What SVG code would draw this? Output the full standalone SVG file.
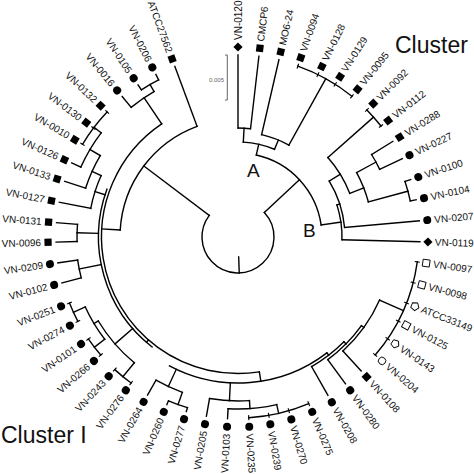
<svg xmlns="http://www.w3.org/2000/svg" xmlns:xlink="http://www.w3.org/1999/xlink" width="474" height="474" viewBox="0 0 474 474">
<style>
.e{fill:none;stroke:#000;stroke-width:1.4;stroke-linecap:square}
.t{stroke-width:1.1}
.lb{font-family:"Liberation Sans",Arial,sans-serif;font-size:10px;fill:#111}
.big{font-family:"Liberation Sans",Arial,sans-serif;fill:#111}
</style>
<defs>
<rect id="sq" x="-3.6" y="-3.6" width="7.2" height="7.2" fill="#000"/>
<rect id="sqo" x="-3.5" y="-3.5" width="7" height="7" fill="#fff" stroke="#000" stroke-width="0.9"/>
<circle id="ci" r="4" fill="#000"/>
<circle id="cio" r="3.7" fill="#fff" stroke="#000" stroke-width="0.9"/>
<polygon id="di" points="0,-4.6 4.6,0 0,4.6 -4.6,0" fill="#000"/>
<polygon id="pe" points="4.3,0 1.33,4.09 -3.48,2.53 -3.48,-2.53 1.33,-4.09" fill="#fff" stroke="#000" stroke-width="0.9"/>
</defs>
<rect width="474" height="474" fill="#fff"/>
<g id="connectors" transform="translate(238,237)">
<!-- root -->
<circle class="e" r="36" pathLength="360" stroke-dasharray="260 400" transform="rotate(-43)"/>
<line class="e" x1="20" x2="36" transform="rotate(88)"/>
<!-- right subtree -->
<line class="e" x1="36" x2="84" transform="rotate(-43)"/>
<circle class="e" r="84" pathLength="360" stroke-dasharray="69.2 400" transform="rotate(-77.4)"/>
<line class="e" x1="84" x2="95" transform="rotate(-77.4)"/>
<circle class="e" r="95" pathLength="360" stroke-dasharray="19.4 400" transform="rotate(-86.8)"/>
<line class="e" x1="95" x2="109" transform="rotate(-86.8)"/>
<circle class="e" r="109" pathLength="360" stroke-dasharray="6.6 400" transform="rotate(-90)"/>
<line class="e" x1="109" x2="182" transform="rotate(-90)"/>
<line class="e" x1="109" x2="182" transform="rotate(-83.4)"/>
<line class="e" x1="95" x2="105" transform="rotate(-67.4)"/>
<circle class="e" r="105" pathLength="360" stroke-dasharray="16 400" transform="rotate(-77)"/>
<line class="e" x1="105" x2="182" transform="rotate(-77)"/>
<line class="e" x1="105" x2="181" transform="rotate(-61)"/>
<circle class="e" r="181" pathLength="360" stroke-dasharray="19.7 400" transform="rotate(-70.7)"/>
<line class="e t" x1="179" x2="183" transform="rotate(-70.7)"/>
<line class="e t" x1="179" x2="183" transform="rotate(-63.8)"/>
<line class="e t" x1="179" x2="183" transform="rotate(-57.5)"/>
<line class="e t" x1="179" x2="183" transform="rotate(-51)"/>
<line class="e" x1="84" x2="104" transform="rotate(-8.2)"/>
<circle class="e" r="104" pathLength="360" stroke-dasharray="19.5 400" transform="rotate(-18)"/>
<line class="e" x1="104" x2="182" transform="rotate(1.5)"/>
<line class="e" x1="104" x2="107" transform="rotate(-18)"/>
<circle class="e" r="107" pathLength="360" stroke-dasharray="26.4 400" transform="rotate(-31.5)"/>
<line class="e" x1="107" x2="182" transform="rotate(-5.1)"/>
<line class="e" x1="107" x2="120" transform="rotate(-31.5)"/>
<circle class="e" r="120" pathLength="360" stroke-dasharray="20.2 400" transform="rotate(-41.5)"/>
<line class="e" x1="120" x2="181" transform="rotate(-41.5)"/>
<circle class="e" r="181" pathLength="360" stroke-dasharray="6.8 400" transform="rotate(-44.6)"/>
<line class="e t" x1="179" x2="183" transform="rotate(-44.6)"/>
<line class="e t" x1="179" x2="183" transform="rotate(-37.8)"/>
<line class="e" x1="120" x2="135" transform="rotate(-21.3)"/>
<circle class="e" r="135" pathLength="360" stroke-dasharray="13.4 400" transform="rotate(-28.5)"/>
<line class="e" x1="135" x2="157" transform="rotate(-28.5)"/>
<circle class="e" r="157" pathLength="360" stroke-dasharray="6.2 400" transform="rotate(-31.7)"/>
<line class="e" x1="157" x2="182" transform="rotate(-31.7)"/>
<line class="e" x1="157" x2="182" transform="rotate(-25.5)"/>
<line class="e" x1="135" x2="176" transform="rotate(-15.1)"/>
<circle class="e" r="176" pathLength="360" stroke-dasharray="6.6 400" transform="rotate(-18.4)"/>
<line class="e" x1="176" x2="182" transform="rotate(-18.4)"/>
<line class="e" x1="176" x2="182" transform="rotate(-11.8)"/>
<!-- left subtree -->
<line class="e" x1="36" x2="118" transform="rotate(217)"/>
<circle class="e" r="118" pathLength="360" stroke-dasharray="66.3 400" transform="rotate(183.4)"/>
<line class="e" x1="118" x2="182" transform="rotate(249.7)"/>
<line class="e" x1="118" x2="136.5" transform="rotate(183.4)"/>
<circle class="e" r="136.5" pathLength="360" stroke-dasharray="155 400" transform="rotate(81)"/>
<line class="e" x1="136.5" x2="139.5" transform="rotate(131)"/>
<circle class="e" r="139.5" pathLength="360" stroke-dasharray="72 400" transform="rotate(128)"/>
<!-- S1 -->
<line class="e" x1="136.5" x2="168" transform="rotate(236)"/>
<circle class="e" r="168" pathLength="360" stroke-dasharray="9.5 400" transform="rotate(230.5)"/>
<line class="e" x1="168" x2="182" transform="rotate(230.5)"/>
<line class="e" x1="168" x2="176" transform="rotate(240)"/>
<circle class="e" r="176" pathLength="360" stroke-dasharray="6.5 400" transform="rotate(236.7)"/>
<line class="e" x1="176" x2="182" transform="rotate(236.7)"/>
<line class="e" x1="176" x2="182" transform="rotate(243.2)"/>
<!-- S2 comb -->
<circle class="e" r="181" pathLength="360" stroke-dasharray="12.9 400" transform="rotate(210.8)"/>
<line class="e t" x1="179" x2="183" transform="rotate(223.7)"/>
<line class="e t" x1="179" x2="183" transform="rotate(217)"/>
<line class="e t" x1="179" x2="183" transform="rotate(210.8)"/>
<line class="e" x1="172" x2="181" transform="rotate(217.3)"/>
<circle class="e" r="172" pathLength="360" stroke-dasharray="13.3 400" transform="rotate(204)"/>
<line class="e" x1="172" x2="182" transform="rotate(204)"/>
<line class="e" x1="160" x2="172" transform="rotate(210.6)"/>
<circle class="e" r="160" pathLength="360" stroke-dasharray="12.8 400" transform="rotate(197.8)"/>
<line class="e" x1="160" x2="182" transform="rotate(197.8)"/>
<line class="e" x1="150" x2="160" transform="rotate(204.2)"/>
<circle class="e" r="150" pathLength="360" stroke-dasharray="13.2 400" transform="rotate(191)"/>
<line class="e" x1="150" x2="182" transform="rotate(191)"/>
<line class="e" x1="139.5" x2="150" transform="rotate(197.6)"/>
<line class="e" x1="139.5" x2="161" transform="rotate(181.5)"/>
<circle class="e" r="161" pathLength="360" stroke-dasharray="6.1 400" transform="rotate(178.4)"/>
<line class="e" x1="161" x2="182" transform="rotate(178.4)"/>
<line class="e" x1="161" x2="182" transform="rotate(184.5)"/>
<line class="e" x1="139.5" x2="162" transform="rotate(168.6)"/>
<circle class="e" r="162" pathLength="360" stroke-dasharray="6.4 400" transform="rotate(165.4)"/>
<line class="e" x1="162" x2="182" transform="rotate(165.4)"/>
<line class="e" x1="162" x2="182" transform="rotate(171.8)"/>
<!-- Q -->
<line class="e" x1="139.5" x2="163" transform="rotate(139)"/>
<circle class="e" r="163" pathLength="360" stroke-dasharray="19.5 400" transform="rotate(129.5)"/>
<line class="e" x1="163" x2="181" transform="rotate(129.5)"/>
<circle class="e" r="181" pathLength="360" stroke-dasharray="6.7 400" transform="rotate(126.2)"/>
<line class="e t" x1="179" x2="183" transform="rotate(126.2)"/>
<line class="e t" x1="179" x2="183" transform="rotate(132.9)"/>
<line class="e" x1="163" x2="168" transform="rotate(149)"/>
<circle class="e" r="168" pathLength="360" stroke-dasharray="12.9 400" transform="rotate(142.5)"/>
<line class="e" x1="168" x2="181" transform="rotate(155.4)"/>
<circle class="e" r="181" pathLength="360" stroke-dasharray="6.4 400" transform="rotate(152.2)"/>
<line class="e t" x1="179" x2="183" transform="rotate(152.2)"/>
<line class="e t" x1="179" x2="183" transform="rotate(158.6)"/>
<line class="e" x1="168" x2="181" transform="rotate(142.5)"/>
<circle class="e" r="181" pathLength="360" stroke-dasharray="6.4 400" transform="rotate(139.3)"/>
<line class="e t" x1="179" x2="183" transform="rotate(139.3)"/>
<line class="e t" x1="179" x2="183" transform="rotate(145.7)"/>
<!-- bottom -->
<line class="e" x1="136.5" x2="146" transform="rotate(81)"/>
<circle class="e" r="146" pathLength="360" stroke-dasharray="65.5 400" transform="rotate(52.5)"/>
<line class="e" x1="146" x2="165" transform="rotate(115)"/>
<circle class="e" r="165" pathLength="360" stroke-dasharray="10.1 400" transform="rotate(109.7)"/>
<line class="e" x1="165" x2="182" transform="rotate(119.8)"/>
<line class="e" x1="165" x2="178" transform="rotate(109.7)"/>
<circle class="e" r="178" pathLength="360" stroke-dasharray="6.5 400" transform="rotate(106.5)"/>
<line class="e" x1="178" x2="182" transform="rotate(106.5)"/>
<line class="e" x1="178" x2="182" transform="rotate(113)"/>
<line class="e" x1="146" x2="164" transform="rotate(93)"/>
<circle class="e" r="164" pathLength="360" stroke-dasharray="14 400" transform="rotate(86)"/>
<line class="e" x1="164" x2="182" transform="rotate(100)"/>
<line class="e" x1="164" x2="172" transform="rotate(86)"/>
<circle class="e" r="172" pathLength="360" stroke-dasharray="16.3 400" transform="rotate(77)"/>
<line class="e" x1="172" x2="182" transform="rotate(93.3)"/>
<line class="e" x1="172" x2="181" transform="rotate(77)"/>
<circle class="e" r="181" pathLength="360" stroke-dasharray="19.6 400" transform="rotate(67)"/>
<line class="e t" x1="179" x2="183" transform="rotate(67)"/>
<line class="e t" x1="179" x2="183" transform="rotate(73.7)"/>
<line class="e t" x1="179" x2="183" transform="rotate(80.2)"/>
<line class="e t" x1="179" x2="183" transform="rotate(86.6)"/>
<line class="e" x1="146" x2="149" transform="rotate(52.5)"/>
<circle class="e" r="149" pathLength="360" stroke-dasharray="15.7 400" transform="rotate(44.7)"/>
<line class="e" x1="149" x2="182" transform="rotate(60.4)"/>
<line class="e" x1="149" x2="152" transform="rotate(44.7)"/>
<circle class="e" r="152" pathLength="360" stroke-dasharray="18.1 400" transform="rotate(35.7)"/>
<line class="e" x1="152" x2="182" transform="rotate(53.8)"/>
<line class="e" x1="152" x2="155" transform="rotate(35.7)"/>
<circle class="e" r="155" pathLength="360" stroke-dasharray="23.4 400" transform="rotate(24)"/>
<line class="e" x1="155" x2="182" transform="rotate(47.4)"/>
<line class="e" x1="155" x2="181" transform="rotate(24)"/>
<circle class="e" r="181" pathLength="360" stroke-dasharray="32.8 400" transform="rotate(7.9)"/>
<line class="e t" x1="179" x2="183" transform="rotate(7.9)"/>
<line class="e t" x1="179" x2="183" transform="rotate(14.6)"/>
<line class="e t" x1="179" x2="183" transform="rotate(21.4)"/>
<line class="e t" x1="179" x2="183" transform="rotate(27.7)"/>
<line class="e t" x1="179" x2="183" transform="rotate(34.2)"/>
<line class="e t" x1="179" x2="183" transform="rotate(40.7)"/>
</g>
<g id="nodes" transform="translate(238,237)" class="lb">
<g id="n-VN-0120" transform="rotate(-90)"><use xlink:href="#di" x="190"/><text x="197" dy="3.5">VN-0120</text></g>
<g id="n-CMCP6" transform="rotate(-83.4)"><use xlink:href="#sq" x="190"/><text x="197" dy="3.5">CMCP6</text></g>
<g id="n-MO6-24" transform="rotate(-77)"><use xlink:href="#sq" x="190"/><text x="197" dy="3.5">MO6-24</text></g>
<g id="n-VN-0094" transform="rotate(-70.7)"><use xlink:href="#sq" x="190"/><text x="197" dy="3.5">VN-0094</text></g>
<g id="n-VN-0128" transform="rotate(-63.8)"><use xlink:href="#sq" x="190"/><text x="197" dy="3.5">VN-0128</text></g>
<g id="n-VN-0129" transform="rotate(-57.5)"><use xlink:href="#sq" x="190"/><text x="197" dy="3.5">VN-0129</text></g>
<g id="n-VN-0095" transform="rotate(-51)"><use xlink:href="#sq" x="190"/><text x="197" dy="3.5">VN-0095</text></g>
<g id="n-VN-0092" transform="rotate(-44.6)"><use xlink:href="#sq" x="190"/><text x="197" dy="3.5">VN-0092</text></g>
<g id="n-VN-0112" transform="rotate(-37.8)"><use xlink:href="#sq" x="190"/><text x="197" dy="3.5">VN-0112</text></g>
<g id="n-VN-0288" transform="rotate(-31.7)"><use xlink:href="#sq" x="190"/><text x="197" dy="3.5">VN-0288</text></g>
<g id="n-VN-0227" transform="rotate(-25.5)"><use xlink:href="#ci" x="190"/><text x="197" dy="3.5">VN-0227</text></g>
<g id="n-VN-0100" transform="rotate(-18.4)"><use xlink:href="#ci" x="190"/><text x="197" dy="3.5">VN-0100</text></g>
<g id="n-VN-0104" transform="rotate(-11.8)"><use xlink:href="#ci" x="190"/><text x="197" dy="3.5">VN-0104</text></g>
<g id="n-VN-0207" transform="rotate(-5.1)"><use xlink:href="#ci" x="190"/><text x="197" dy="3.5">VN-0207</text></g>
<g id="n-VN-0119" transform="rotate(1.5)"><use xlink:href="#di" x="190"/><text x="197" dy="3.5">VN-0119</text></g>
<g id="n-VN-0097" transform="rotate(7.9)"><use xlink:href="#sqo" x="190"/><text x="197" dy="3.5">VN-0097</text></g>
<g id="n-VN-0098" transform="rotate(14.6)"><use xlink:href="#sqo" x="190"/><text x="197" dy="3.5">VN-0098</text></g>
<g id="n-ATCC33149" transform="rotate(21.4)"><use xlink:href="#pe" x="190"/><text x="197" dy="3.5">ATCC33149</text></g>
<g id="n-VN-0125" transform="rotate(27.7)"><use xlink:href="#sqo" x="190"/><text x="197" dy="3.5">VN-0125</text></g>
<g id="n-VN-0143" transform="rotate(34.2)"><use xlink:href="#pe" x="190"/><text x="197" dy="3.5">VN-0143</text></g>
<g id="n-VN-0204" transform="rotate(40.7)"><use xlink:href="#cio" x="190"/><text x="197" dy="3.5">VN-0204</text></g>
<g id="n-VN-0108" transform="rotate(47.4)"><use xlink:href="#sq" x="190"/><text x="197" dy="3.5">VN-0108</text></g>
<g id="n-VN-0280" transform="rotate(53.8)"><use xlink:href="#ci" x="190"/><text x="197" dy="3.5">VN-0280</text></g>
<g id="n-VN-0208" transform="rotate(60.4)"><use xlink:href="#ci" x="190"/><text x="197" dy="3.5">VN-0208</text></g>
<g id="n-VN-0275" transform="rotate(67)"><use xlink:href="#ci" x="190"/><text x="197" dy="3.5">VN-0275</text></g>
<g id="n-VN-0270" transform="rotate(73.7)"><use xlink:href="#ci" x="190"/><text x="197" dy="3.5">VN-0270</text></g>
<g id="n-VN-0239" transform="rotate(80.2)"><use xlink:href="#ci" x="190"/><text x="197" dy="3.5">VN-0239</text></g>
<g id="n-VN-0235" transform="rotate(86.6)"><use xlink:href="#ci" x="190"/><text x="197" dy="3.5">VN-0235</text></g>
<g id="n-VN-0103" transform="rotate(93.3)"><use xlink:href="#ci" x="190"/><text transform="rotate(180)" x="-197" dy="3.5" text-anchor="end">VN-0103</text></g>
<g id="n-VN-0205" transform="rotate(100)"><use xlink:href="#ci" x="190"/><text transform="rotate(180)" x="-197" dy="3.5" text-anchor="end">VN-0205</text></g>
<g id="n-VN-0277" transform="rotate(106.5)"><use xlink:href="#ci" x="190"/><text transform="rotate(180)" x="-197" dy="3.5" text-anchor="end">VN-0277</text></g>
<g id="n-VN-0260" transform="rotate(113)"><use xlink:href="#ci" x="190"/><text transform="rotate(180)" x="-197" dy="3.5" text-anchor="end">VN-0260</text></g>
<g id="n-VN-0264" transform="rotate(119.8)"><use xlink:href="#ci" x="190"/><text transform="rotate(180)" x="-197" dy="3.5" text-anchor="end">VN-0264</text></g>
<g id="n-VN-0276" transform="rotate(126.2)"><use xlink:href="#ci" x="190"/><text transform="rotate(180)" x="-197" dy="3.5" text-anchor="end">VN-0276</text></g>
<g id="n-VN-0243" transform="rotate(132.9)"><use xlink:href="#ci" x="190"/><text transform="rotate(180)" x="-197" dy="3.5" text-anchor="end">VN-0243</text></g>
<g id="n-VN-0266" transform="rotate(139.3)"><use xlink:href="#ci" x="190"/><text transform="rotate(180)" x="-197" dy="3.5" text-anchor="end">VN-0266</text></g>
<g id="n-VN-0101" transform="rotate(145.7)"><use xlink:href="#ci" x="190"/><text transform="rotate(180)" x="-197" dy="3.5" text-anchor="end">VN-0101</text></g>
<g id="n-VN-0274" transform="rotate(152.2)"><use xlink:href="#ci" x="190"/><text transform="rotate(180)" x="-197" dy="3.5" text-anchor="end">VN-0274</text></g>
<g id="n-VN-0251" transform="rotate(158.6)"><use xlink:href="#ci" x="190"/><text transform="rotate(180)" x="-197" dy="3.5" text-anchor="end">VN-0251</text></g>
<g id="n-VN-0102" transform="rotate(165.4)"><use xlink:href="#ci" x="190"/><text transform="rotate(180)" x="-197" dy="3.5" text-anchor="end">VN-0102</text></g>
<g id="n-VN-0209" transform="rotate(171.8)"><use xlink:href="#ci" x="190"/><text transform="rotate(180)" x="-197" dy="3.5" text-anchor="end">VN-0209</text></g>
<g id="n-VN-0096" transform="rotate(178.4)"><use xlink:href="#sq" x="190"/><text transform="rotate(180)" x="-197" dy="3.5" text-anchor="end">VN-0096</text></g>
<g id="n-VN-0131" transform="rotate(184.5)"><use xlink:href="#sq" x="190"/><text transform="rotate(180)" x="-197" dy="3.5" text-anchor="end">VN-0131</text></g>
<g id="n-VN-0127" transform="rotate(191)"><use xlink:href="#sq" x="190"/><text transform="rotate(180)" x="-197" dy="3.5" text-anchor="end">VN-0127</text></g>
<g id="n-VN-0133" transform="rotate(197.8)"><use xlink:href="#sq" x="190"/><text transform="rotate(180)" x="-197" dy="3.5" text-anchor="end">VN-0133</text></g>
<g id="n-VN-0126" transform="rotate(204)"><use xlink:href="#sq" x="190"/><text transform="rotate(180)" x="-197" dy="3.5" text-anchor="end">VN-0126</text></g>
<g id="n-VN-0010" transform="rotate(210.8)"><use xlink:href="#sq" x="190"/><text transform="rotate(180)" x="-197" dy="3.5" text-anchor="end">VN-0010</text></g>
<g id="n-VN-0130" transform="rotate(217)"><use xlink:href="#sq" x="190"/><text transform="rotate(180)" x="-197" dy="3.5" text-anchor="end">VN-0130</text></g>
<g id="n-VN-0132" transform="rotate(223.7)"><use xlink:href="#sq" x="190"/><text transform="rotate(180)" x="-197" dy="3.5" text-anchor="end">VN-0132</text></g>
<g id="n-VN-0016" transform="rotate(230.5)"><use xlink:href="#ci" x="190"/><text transform="rotate(180)" x="-197" dy="3.5" text-anchor="end">VN-0016</text></g>
<g id="n-VN-0105" transform="rotate(236.7)"><use xlink:href="#ci" x="190"/><text transform="rotate(180)" x="-197" dy="3.5" text-anchor="end">VN-0105</text></g>
<g id="n-VN-0206" transform="rotate(243.2)"><use xlink:href="#ci" x="190"/><text transform="rotate(180)" x="-197" dy="3.5" text-anchor="end">VN-0206</text></g>
<g id="n-ATCC27562" transform="rotate(249.7)"><use xlink:href="#sq" x="190"/><text transform="rotate(180)" x="-197" dy="3.5" text-anchor="end">ATCC27562</text></g>
</g>
<g id="labels" class="big">
<text x="247" y="176.5" font-size="19">A</text>
<text x="303" y="236.5" font-size="19">B</text>
<text x="395" y="53" font-size="23">Cluster</text>
<text x="1" y="443" font-size="23">Cluster I</text>
</g>
<g id="scale">
<path d="M225,55 H227.3 V100 H225" fill="none" stroke="#666" stroke-width="1"/>
<text x="224" y="82" font-family="'Liberation Sans',Arial,sans-serif" font-size="6" fill="#666" text-anchor="end">0.005</text>
</g>
</svg>
